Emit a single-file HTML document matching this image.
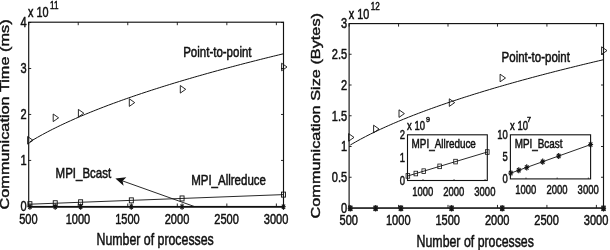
<!DOCTYPE html>
<html><head><meta charset="utf-8"><title>Communication time and size</title>
<style>html,body{margin:0;padding:0;background:#fff}svg{display:block}svg text{font-family:"Liberation Sans",sans-serif}</style></head>
<body><svg width="610" height="250" viewBox="0 0 610 250"  fill="#111" stroke="#111">
<rect x="0" y="0" width="610" height="250" fill="#fff" stroke="none"/>
<g>
<rect x="28.7" y="22.2" width="254.80" height="184.30" fill="none" stroke-width="1.15"/>
<line x1="28.70" y1="206.50" x2="28.70" y2="203.50" stroke-width="0.9" />
<line x1="28.70" y1="22.20" x2="28.70" y2="25.20" stroke-width="0.9" />
<line x1="78.23" y1="206.50" x2="78.23" y2="203.50" stroke-width="0.9" />
<line x1="78.23" y1="22.20" x2="78.23" y2="25.20" stroke-width="0.9" />
<line x1="127.77" y1="206.50" x2="127.77" y2="203.50" stroke-width="0.9" />
<line x1="127.77" y1="22.20" x2="127.77" y2="25.20" stroke-width="0.9" />
<line x1="177.30" y1="206.50" x2="177.30" y2="203.50" stroke-width="0.9" />
<line x1="177.30" y1="22.20" x2="177.30" y2="25.20" stroke-width="0.9" />
<line x1="226.83" y1="206.50" x2="226.83" y2="203.50" stroke-width="0.9" />
<line x1="226.83" y1="22.20" x2="226.83" y2="25.20" stroke-width="0.9" />
<line x1="276.37" y1="206.50" x2="276.37" y2="203.50" stroke-width="0.9" />
<line x1="276.37" y1="22.20" x2="276.37" y2="25.20" stroke-width="0.9" />
<line x1="28.70" y1="206.40" x2="31.20" y2="206.40" stroke-width="0.9" />
<line x1="283.50" y1="206.40" x2="281.00" y2="206.40" stroke-width="0.9" />
<line x1="28.70" y1="160.43" x2="31.20" y2="160.43" stroke-width="0.9" />
<line x1="283.50" y1="160.43" x2="281.00" y2="160.43" stroke-width="0.9" />
<line x1="28.70" y1="114.46" x2="31.20" y2="114.46" stroke-width="0.9" />
<line x1="283.50" y1="114.46" x2="281.00" y2="114.46" stroke-width="0.9" />
<line x1="28.70" y1="68.49" x2="31.20" y2="68.49" stroke-width="0.9" />
<line x1="283.50" y1="68.49" x2="281.00" y2="68.49" stroke-width="0.9" />
<line x1="28.70" y1="22.52" x2="31.20" y2="22.52" stroke-width="0.9" />
<line x1="283.50" y1="22.52" x2="281.00" y2="22.52" stroke-width="0.9" />
<line x1="29.89" y1="207.10" x2="283.50" y2="207.10" stroke-width="1.2" />
<text stroke="#111" stroke-width="0.5" transform="translate(28.40 223.50) scale(0.783 1)" font-size="14.1" text-anchor="middle" >500</text>
<text stroke="#111" stroke-width="0.5" transform="translate(77.93 223.50) scale(0.783 1)" font-size="14.1" text-anchor="middle" >1000</text>
<text stroke="#111" stroke-width="0.5" transform="translate(127.47 223.50) scale(0.783 1)" font-size="14.1" text-anchor="middle" >1500</text>
<text stroke="#111" stroke-width="0.5" transform="translate(177.00 223.50) scale(0.783 1)" font-size="14.1" text-anchor="middle" >2000</text>
<text stroke="#111" stroke-width="0.5" transform="translate(226.53 223.50) scale(0.783 1)" font-size="14.1" text-anchor="middle" >2500</text>
<text stroke="#111" stroke-width="0.5" transform="translate(276.07 223.50) scale(0.783 1)" font-size="14.1" text-anchor="middle" >3000</text>
<text stroke="#111" stroke-width="0.5" transform="translate(26.60 211.30) scale(0.783 1)" font-size="14.1" text-anchor="end" >0</text>
<text stroke="#111" stroke-width="0.5" transform="translate(26.60 165.33) scale(0.783 1)" font-size="14.1" text-anchor="end" >1</text>
<text stroke="#111" stroke-width="0.5" transform="translate(26.60 119.36) scale(0.783 1)" font-size="14.1" text-anchor="end" >2</text>
<text stroke="#111" stroke-width="0.5" transform="translate(26.60 73.39) scale(0.783 1)" font-size="14.1" text-anchor="end" >3</text>
<text stroke="#111" stroke-width="0.5" transform="translate(26.60 27.42) scale(0.783 1)" font-size="14.1" text-anchor="end" >4</text>
<text stroke="#111" stroke-width="0.5" transform="translate(28.00 16.60) scale(0.77 1)" font-size="14.1" text-anchor="start" >x 10</text>
<text stroke="#111" stroke-width="0.5" transform="translate(50.00 8.60) scale(0.78 1)" font-size="10.4" text-anchor="start" >11</text>
<text stroke="#111" stroke-width="0.5" transform="translate(96.50 244.60) scale(0.777 1)" font-size="15.9" text-anchor="start" >Number of processes</text>
<text stroke="#111" stroke-width="0.5" transform="translate(8.80 209.50) rotate(-90) scale(1 0.815)" font-size="16.3" text-anchor="start">Communication Time (ms)</text>
<polyline points="29.89,141.81 32.42,140.28 34.96,138.79 37.50,137.33 40.03,135.91 42.57,134.51 45.11,133.14 47.64,131.80 50.18,130.49 52.71,129.20 55.25,127.94 57.79,126.69 60.32,125.47 62.86,124.26 65.39,123.08 67.93,121.91 70.47,120.76 73.00,119.63 75.54,118.51 78.07,117.40 80.61,116.32 83.15,115.24 85.68,114.18 88.22,113.13 90.76,112.10 93.29,111.08 95.83,110.07 98.36,109.07 100.90,108.08 103.44,107.10 105.97,106.13 108.51,105.17 111.04,104.23 113.58,103.29 116.12,102.36 118.65,101.44 121.19,100.53 123.72,99.62 126.26,98.73 128.80,97.84 131.33,96.96 133.87,96.09 136.41,95.23 138.94,94.37 141.48,93.52 144.01,92.68 146.55,91.84 149.09,91.01 151.62,90.19 154.16,89.37 156.69,88.56 159.23,87.75 161.77,86.95 164.30,86.16 166.84,85.37 169.37,84.59 171.91,83.81 174.45,83.04 176.98,82.27 179.52,81.51 182.06,80.76 184.59,80.01 187.13,79.26 189.66,78.52 192.20,77.78 194.74,77.05 197.27,76.32 199.81,75.59 202.34,74.88 204.88,74.16 207.42,73.45 209.95,72.74 212.49,72.04 215.02,71.34 217.56,70.64 220.10,69.95 222.63,69.27 225.17,68.58 227.71,67.90 230.24,67.22 232.78,66.55 235.31,65.88 237.85,65.22 240.39,64.55 242.92,63.89 245.46,63.24 247.99,62.59 250.53,61.94 253.07,61.29 255.60,60.65 258.14,60.01 260.67,59.37 263.21,58.73 265.75,58.10 268.28,57.47 270.82,56.85 273.36,56.23 275.89,55.61 278.43,54.99 280.96,54.37 283.50,53.76" fill="none" stroke-width="1"/>
<polygon points="27.60,136.50 33.00,140.30 27.60,144.10" fill="none" stroke-width="0.9"/>
<polygon points="53.20,114.00 58.60,117.80 53.20,121.60" fill="none" stroke-width="0.9"/>
<polygon points="78.40,109.40 83.80,113.20 78.40,117.00" fill="none" stroke-width="0.9"/>
<polygon points="129.30,98.80 134.70,102.60 129.30,106.40" fill="none" stroke-width="0.9"/>
<polygon points="180.30,85.50 185.70,89.30 180.30,93.10" fill="none" stroke-width="0.9"/>
<polygon points="281.60,63.20 287.00,67.00 281.60,70.80" fill="none" stroke-width="0.9"/>
<line x1="29.89" y1="204.20" x2="283.50" y2="194.60" stroke-width="0.9" />
<rect x="27.89" y="201.70" width="4" height="5" fill="none" stroke-width="0.9"/>
<rect x="53.25" y="200.74" width="4" height="5" fill="none" stroke-width="0.9"/>
<rect x="78.61" y="199.78" width="4" height="5" fill="none" stroke-width="0.9"/>
<rect x="129.33" y="197.86" width="4" height="5" fill="none" stroke-width="0.9"/>
<rect x="180.06" y="195.94" width="4" height="5" fill="none" stroke-width="0.9"/>
<rect x="281.50" y="192.10" width="4" height="5" fill="none" stroke-width="0.9"/>
<line x1="29.89" y1="203.60" x2="29.89" y2="209.80" stroke-width="1.1" />
<line x1="27.69" y1="206.70" x2="32.09" y2="206.70" stroke-width="1.1" />
<line x1="28.35" y1="204.53" x2="31.43" y2="208.87" stroke-width="1.1" />
<line x1="28.35" y1="208.87" x2="31.43" y2="204.53" stroke-width="1.1" />
<line x1="55.25" y1="203.60" x2="55.25" y2="209.80" stroke-width="1.1" />
<line x1="53.05" y1="206.70" x2="57.45" y2="206.70" stroke-width="1.1" />
<line x1="53.71" y1="204.53" x2="56.79" y2="208.87" stroke-width="1.1" />
<line x1="53.71" y1="208.87" x2="56.79" y2="204.53" stroke-width="1.1" />
<line x1="80.61" y1="203.60" x2="80.61" y2="209.80" stroke-width="1.1" />
<line x1="78.41" y1="206.70" x2="82.81" y2="206.70" stroke-width="1.1" />
<line x1="79.07" y1="204.53" x2="82.15" y2="208.87" stroke-width="1.1" />
<line x1="79.07" y1="208.87" x2="82.15" y2="204.53" stroke-width="1.1" />
<line x1="131.33" y1="203.60" x2="131.33" y2="209.80" stroke-width="1.1" />
<line x1="129.13" y1="206.70" x2="133.53" y2="206.70" stroke-width="1.1" />
<line x1="129.79" y1="204.53" x2="132.87" y2="208.87" stroke-width="1.1" />
<line x1="129.79" y1="208.87" x2="132.87" y2="204.53" stroke-width="1.1" />
<line x1="182.06" y1="203.60" x2="182.06" y2="209.80" stroke-width="1.1" />
<line x1="179.86" y1="206.70" x2="184.26" y2="206.70" stroke-width="1.1" />
<line x1="180.52" y1="204.53" x2="183.60" y2="208.87" stroke-width="1.1" />
<line x1="180.52" y1="208.87" x2="183.60" y2="204.53" stroke-width="1.1" />
<line x1="283.50" y1="203.60" x2="283.50" y2="209.80" stroke-width="1.1" />
<line x1="281.30" y1="206.70" x2="285.70" y2="206.70" stroke-width="1.1" />
<line x1="281.96" y1="204.53" x2="285.04" y2="208.87" stroke-width="1.1" />
<line x1="281.96" y1="208.87" x2="285.04" y2="204.53" stroke-width="1.1" />
<text stroke="#111" stroke-width="0.5" transform="translate(183.20 57.00) scale(0.81 1)" font-size="14.2" text-anchor="start" >Point-to-point</text>
<text stroke="#111" stroke-width="0.5" transform="translate(55.60 178.40) scale(0.81 1)" font-size="14.2" text-anchor="start" >MPI_Bcast</text>
<text stroke="#111" stroke-width="0.5" transform="translate(191.20 185.40) scale(0.81 1)" font-size="14.2" text-anchor="start" >MPI_Allreduce</text>
<line x1="194.00" y1="206.40" x2="122.50" y2="180.90" stroke-width="0.9" />
<polygon points="115.4,178.4 126.3,177.2 122.6,180.9 123.6,185.8" stroke="none" fill="#111"/>
<rect x="349.1" y="23.6" width="254.40" height="184.30" fill="none" stroke-width="1.15"/>
<line x1="349.10" y1="207.90" x2="349.10" y2="204.90" stroke-width="0.9" />
<line x1="349.10" y1="23.60" x2="349.10" y2="26.60" stroke-width="0.9" />
<line x1="398.56" y1="207.90" x2="398.56" y2="204.90" stroke-width="0.9" />
<line x1="398.56" y1="23.60" x2="398.56" y2="26.60" stroke-width="0.9" />
<line x1="448.01" y1="207.90" x2="448.01" y2="204.90" stroke-width="0.9" />
<line x1="448.01" y1="23.60" x2="448.01" y2="26.60" stroke-width="0.9" />
<line x1="497.47" y1="207.90" x2="497.47" y2="204.90" stroke-width="0.9" />
<line x1="497.47" y1="23.60" x2="497.47" y2="26.60" stroke-width="0.9" />
<line x1="546.92" y1="207.90" x2="546.92" y2="204.90" stroke-width="0.9" />
<line x1="546.92" y1="23.60" x2="546.92" y2="26.60" stroke-width="0.9" />
<line x1="596.38" y1="207.90" x2="596.38" y2="204.90" stroke-width="0.9" />
<line x1="596.38" y1="23.60" x2="596.38" y2="26.60" stroke-width="0.9" />
<line x1="349.10" y1="208.00" x2="351.60" y2="208.00" stroke-width="0.9" />
<line x1="603.50" y1="208.00" x2="601.00" y2="208.00" stroke-width="0.9" />
<line x1="349.10" y1="177.25" x2="351.60" y2="177.25" stroke-width="0.9" />
<line x1="603.50" y1="177.25" x2="601.00" y2="177.25" stroke-width="0.9" />
<line x1="349.10" y1="146.50" x2="351.60" y2="146.50" stroke-width="0.9" />
<line x1="603.50" y1="146.50" x2="601.00" y2="146.50" stroke-width="0.9" />
<line x1="349.10" y1="115.75" x2="351.60" y2="115.75" stroke-width="0.9" />
<line x1="603.50" y1="115.75" x2="601.00" y2="115.75" stroke-width="0.9" />
<line x1="349.10" y1="85.00" x2="351.60" y2="85.00" stroke-width="0.9" />
<line x1="603.50" y1="85.00" x2="601.00" y2="85.00" stroke-width="0.9" />
<line x1="349.10" y1="54.25" x2="351.60" y2="54.25" stroke-width="0.9" />
<line x1="603.50" y1="54.25" x2="601.00" y2="54.25" stroke-width="0.9" />
<line x1="349.10" y1="23.50" x2="351.60" y2="23.50" stroke-width="0.9" />
<line x1="603.50" y1="23.50" x2="601.00" y2="23.50" stroke-width="0.9" />
<line x1="350.29" y1="208.30" x2="603.50" y2="208.30" stroke-width="0.9" />
<text stroke="#111" stroke-width="0.5" transform="translate(348.80 225.00) scale(0.783 1)" font-size="14.1" text-anchor="middle" >500</text>
<text stroke="#111" stroke-width="0.5" transform="translate(398.26 225.00) scale(0.783 1)" font-size="14.1" text-anchor="middle" >1000</text>
<text stroke="#111" stroke-width="0.5" transform="translate(447.71 225.00) scale(0.783 1)" font-size="14.1" text-anchor="middle" >1500</text>
<text stroke="#111" stroke-width="0.5" transform="translate(497.17 225.00) scale(0.783 1)" font-size="14.1" text-anchor="middle" >2000</text>
<text stroke="#111" stroke-width="0.5" transform="translate(546.62 225.00) scale(0.783 1)" font-size="14.1" text-anchor="middle" >2500</text>
<text stroke="#111" stroke-width="0.5" transform="translate(596.08 225.00) scale(0.783 1)" font-size="14.1" text-anchor="middle" >3000</text>
<text stroke="#111" stroke-width="0.5" transform="translate(347.20 212.90) scale(0.783 1)" font-size="14.1" text-anchor="end" >0</text>
<text stroke="#111" stroke-width="0.5" transform="translate(347.20 182.15) scale(0.783 1)" font-size="14.1" text-anchor="end" >0.5</text>
<text stroke="#111" stroke-width="0.5" transform="translate(347.20 151.40) scale(0.783 1)" font-size="14.1" text-anchor="end" >1</text>
<text stroke="#111" stroke-width="0.5" transform="translate(347.20 120.65) scale(0.783 1)" font-size="14.1" text-anchor="end" >1.5</text>
<text stroke="#111" stroke-width="0.5" transform="translate(347.20 89.90) scale(0.783 1)" font-size="14.1" text-anchor="end" >2</text>
<text stroke="#111" stroke-width="0.5" transform="translate(347.20 59.15) scale(0.783 1)" font-size="14.1" text-anchor="end" >2.5</text>
<text stroke="#111" stroke-width="0.5" transform="translate(347.20 28.40) scale(0.783 1)" font-size="14.1" text-anchor="end" >3</text>
<text stroke="#111" stroke-width="0.5" transform="translate(348.80 18.60) scale(0.77 1)" font-size="14.1" text-anchor="start" >x 10</text>
<text stroke="#111" stroke-width="0.5" transform="translate(370.80 10.10) scale(0.78 1)" font-size="10.4" text-anchor="start" >12</text>
<text stroke="#111" stroke-width="0.5" transform="translate(416.60 246.60) scale(0.777 1)" font-size="15.9" text-anchor="start" >Number of processes</text>
<text stroke="#111" stroke-width="0.5" transform="translate(319.50 218.50) rotate(-90) scale(1 0.815)" font-size="16.3" text-anchor="start">Communication Size (Bytes)</text>
<polyline points="350.29,145.02 352.82,143.54 355.35,142.09 357.88,140.67 360.42,139.29 362.95,137.94 365.48,136.61 368.01,135.31 370.54,134.04 373.08,132.78 375.61,131.56 378.14,130.35 380.67,129.16 383.20,127.99 385.74,126.84 388.27,125.71 390.80,124.59 393.33,123.49 395.87,122.41 398.40,121.34 400.93,120.29 403.46,119.24 405.99,118.22 408.53,117.20 411.06,116.20 413.59,115.21 416.12,114.23 418.65,113.26 421.19,112.30 423.72,111.35 426.25,110.41 428.78,109.49 431.32,108.57 433.85,107.66 436.38,106.76 438.91,105.86 441.44,104.98 443.98,104.11 446.51,103.24 449.04,102.38 451.57,101.53 454.10,100.68 456.64,99.85 459.17,99.01 461.70,98.19 464.23,97.37 466.76,96.56 469.30,95.76 471.83,94.96 474.36,94.17 476.89,93.39 479.43,92.61 481.96,91.83 484.49,91.06 487.02,90.30 489.55,89.54 492.09,88.79 494.62,88.04 497.15,87.30 499.68,86.56 502.21,85.83 504.75,85.10 507.28,84.38 509.81,83.66 512.34,82.95 514.88,82.24 517.41,81.53 519.94,80.83 522.47,80.14 525.00,79.44 527.54,78.76 530.07,78.07 532.60,77.39 535.13,76.71 537.66,76.04 540.20,75.37 542.73,74.71 545.26,74.04 547.79,73.39 550.33,72.73 552.86,72.08 555.39,71.43 557.92,70.79 560.45,70.15 562.99,69.51 565.52,68.87 568.05,68.24 570.58,67.61 573.11,66.99 575.65,66.36 578.18,65.74 580.71,65.13 583.24,64.51 585.78,63.90 588.31,63.30 590.84,62.69 593.37,62.09 595.90,61.49 598.44,60.89 600.97,60.30 603.50,59.70" fill="none" stroke-width="1"/>
<polygon points="348.60,133.60 354.00,137.40 348.60,141.20" fill="none" stroke-width="0.9"/>
<polygon points="373.60,125.20 379.00,129.00 373.60,132.80" fill="none" stroke-width="0.9"/>
<polygon points="399.00,109.80 404.40,113.60 399.00,117.40" fill="none" stroke-width="0.9"/>
<polygon points="449.30,98.80 454.70,102.60 449.30,106.40" fill="none" stroke-width="0.9"/>
<polygon points="500.10,74.20 505.50,78.00 500.10,81.80" fill="none" stroke-width="0.9"/>
<polygon points="601.60,46.80 607.00,50.60 601.60,54.40" fill="none" stroke-width="0.9"/>
<rect x="348.09" y="205.50" width="4.4" height="5.6" fill="#333" stroke="none"/>
<line x1="350.29" y1="205.10" x2="350.29" y2="211.50" stroke-width="0.9" />
<line x1="347.69" y1="208.30" x2="352.89" y2="208.30" stroke-width="0.9" />
<line x1="348.47" y1="206.06" x2="352.11" y2="210.54" stroke-width="0.9" />
<line x1="348.47" y1="210.54" x2="352.11" y2="206.06" stroke-width="0.9" />
<rect x="373.41" y="205.50" width="4.4" height="5.6" fill="#333" stroke="none"/>
<line x1="375.61" y1="205.10" x2="375.61" y2="211.50" stroke-width="0.9" />
<line x1="373.01" y1="208.30" x2="378.21" y2="208.30" stroke-width="0.9" />
<line x1="373.79" y1="206.06" x2="377.43" y2="210.54" stroke-width="0.9" />
<line x1="373.79" y1="210.54" x2="377.43" y2="206.06" stroke-width="0.9" />
<rect x="398.73" y="205.50" width="4.4" height="5.6" fill="#333" stroke="none"/>
<line x1="400.93" y1="205.10" x2="400.93" y2="211.50" stroke-width="0.9" />
<line x1="398.33" y1="208.30" x2="403.53" y2="208.30" stroke-width="0.9" />
<line x1="399.11" y1="206.06" x2="402.75" y2="210.54" stroke-width="0.9" />
<line x1="399.11" y1="210.54" x2="402.75" y2="206.06" stroke-width="0.9" />
<rect x="449.37" y="205.50" width="4.4" height="5.6" fill="#333" stroke="none"/>
<line x1="451.57" y1="205.10" x2="451.57" y2="211.50" stroke-width="0.9" />
<line x1="448.97" y1="208.30" x2="454.17" y2="208.30" stroke-width="0.9" />
<line x1="449.75" y1="206.06" x2="453.39" y2="210.54" stroke-width="0.9" />
<line x1="449.75" y1="210.54" x2="453.39" y2="206.06" stroke-width="0.9" />
<rect x="500.01" y="205.50" width="4.4" height="5.6" fill="#333" stroke="none"/>
<line x1="502.21" y1="205.10" x2="502.21" y2="211.50" stroke-width="0.9" />
<line x1="499.61" y1="208.30" x2="504.81" y2="208.30" stroke-width="0.9" />
<line x1="500.39" y1="206.06" x2="504.03" y2="210.54" stroke-width="0.9" />
<line x1="500.39" y1="210.54" x2="504.03" y2="206.06" stroke-width="0.9" />
<rect x="601.30" y="205.50" width="4.4" height="5.6" fill="#333" stroke="none"/>
<line x1="603.50" y1="205.10" x2="603.50" y2="211.50" stroke-width="0.9" />
<line x1="600.90" y1="208.30" x2="606.10" y2="208.30" stroke-width="0.9" />
<line x1="601.68" y1="206.06" x2="605.32" y2="210.54" stroke-width="0.9" />
<line x1="601.68" y1="210.54" x2="605.32" y2="206.06" stroke-width="0.9" />
<text stroke="#111" stroke-width="0.5" transform="translate(501.60 61.60) scale(0.81 1)" font-size="14.2" text-anchor="start" >Point-to-point</text>
<rect x="407.5" y="134.8" width="79.80" height="45.70" fill="#fff" stroke-width="1.1"/>
<line x1="423.01" y1="180.50" x2="423.01" y2="179.10" stroke-width="0.7" />
<text stroke="#111" stroke-width="0.5" transform="translate(422.81 195.50) scale(0.74 1)" font-size="12.8" text-anchor="middle" >1000</text>
<line x1="454.04" y1="180.50" x2="454.04" y2="179.10" stroke-width="0.7" />
<text stroke="#111" stroke-width="0.5" transform="translate(453.84 195.50) scale(0.74 1)" font-size="12.8" text-anchor="middle" >2000</text>
<line x1="485.07" y1="180.50" x2="485.07" y2="179.10" stroke-width="0.7" />
<text stroke="#111" stroke-width="0.5" transform="translate(484.87 195.50) scale(0.74 1)" font-size="12.8" text-anchor="middle" >3000</text>
<text stroke="#111" stroke-width="0.5" transform="translate(404.90 185.00) scale(0.74 1)" font-size="12.8" text-anchor="end" >0</text>
<text stroke="#111" stroke-width="0.5" transform="translate(404.90 162.15) scale(0.74 1)" font-size="12.8" text-anchor="end" >1</text>
<text stroke="#111" stroke-width="0.5" transform="translate(404.90 139.30) scale(0.74 1)" font-size="12.8" text-anchor="end" >2</text>
<text stroke="#111" stroke-width="0.5" transform="translate(407.10 129.70) scale(0.73 1)" font-size="13.0" text-anchor="start" >x 10</text>
<text stroke="#111" stroke-width="0.5" transform="translate(426.00 122.20) scale(0.9 1)" font-size="8" text-anchor="start" >9</text>
<text stroke="#111" stroke-width="0.5" transform="translate(411.60 147.50) scale(0.785 1)" font-size="12.6" text-anchor="start" >MPI_Allreduce</text>
<line x1="407.60" y1="176.00" x2="487.40" y2="152.00" stroke-width="0.9" />
<rect x="406.07" y="173.62" width="3.6" height="4.6" fill="none" stroke-width="0.8"/>
<rect x="414.02" y="171.23" width="3.6" height="4.6" fill="none" stroke-width="0.8"/>
<rect x="421.96" y="168.84" width="3.6" height="4.6" fill="none" stroke-width="0.8"/>
<rect x="437.84" y="164.06" width="3.6" height="4.6" fill="none" stroke-width="0.8"/>
<rect x="453.73" y="159.29" width="3.6" height="4.6" fill="none" stroke-width="0.8"/>
<rect x="485.50" y="149.73" width="3.6" height="4.6" fill="none" stroke-width="0.8"/>
<rect x="510.4" y="134.8" width="80.20" height="44.10" fill="#fff" stroke-width="1.1"/>
<line x1="525.99" y1="178.90" x2="525.99" y2="177.50" stroke-width="0.7" />
<text stroke="#111" stroke-width="0.5" transform="translate(525.79 193.90) scale(0.74 1)" font-size="12.8" text-anchor="middle" >1000</text>
<line x1="557.17" y1="178.90" x2="557.17" y2="177.50" stroke-width="0.7" />
<text stroke="#111" stroke-width="0.5" transform="translate(556.97 193.90) scale(0.74 1)" font-size="12.8" text-anchor="middle" >2000</text>
<line x1="588.35" y1="178.90" x2="588.35" y2="177.50" stroke-width="0.7" />
<text stroke="#111" stroke-width="0.5" transform="translate(588.15 193.90) scale(0.74 1)" font-size="12.8" text-anchor="middle" >3000</text>
<text stroke="#111" stroke-width="0.5" transform="translate(507.80 183.40) scale(0.74 1)" font-size="12.8" text-anchor="end" >0</text>
<text stroke="#111" stroke-width="0.5" transform="translate(507.80 161.35) scale(0.74 1)" font-size="12.8" text-anchor="end" >5</text>
<text stroke="#111" stroke-width="0.5" transform="translate(507.80 139.30) scale(0.74 1)" font-size="12.8" text-anchor="end" >10</text>
<text stroke="#111" stroke-width="0.5" transform="translate(510.00 129.70) scale(0.73 1)" font-size="13.0" text-anchor="start" >x 10</text>
<text stroke="#111" stroke-width="0.5" transform="translate(527.00 122.20) scale(0.9 1)" font-size="8" text-anchor="start" >7</text>
<text stroke="#111" stroke-width="0.5" transform="translate(514.70 147.50) scale(0.785 1)" font-size="12.6" text-anchor="start" >MPI_Bcast</text>
<line x1="510.50" y1="173.20" x2="590.60" y2="144.60" stroke-width="0.9" />
<line x1="510.77" y1="170.00" x2="510.77" y2="176.20" stroke-width="1.1" />
<line x1="508.27" y1="173.10" x2="513.27" y2="173.10" stroke-width="1.1" />
<line x1="509.02" y1="170.93" x2="512.52" y2="175.27" stroke-width="1.1" />
<line x1="509.02" y1="175.27" x2="512.52" y2="170.93" stroke-width="1.1" />
<line x1="518.76" y1="167.15" x2="518.76" y2="173.35" stroke-width="1.1" />
<line x1="516.26" y1="170.25" x2="521.26" y2="170.25" stroke-width="1.1" />
<line x1="517.01" y1="168.08" x2="520.51" y2="172.42" stroke-width="1.1" />
<line x1="517.01" y1="172.42" x2="520.51" y2="168.08" stroke-width="1.1" />
<line x1="526.74" y1="164.30" x2="526.74" y2="170.50" stroke-width="1.1" />
<line x1="524.24" y1="167.40" x2="529.24" y2="167.40" stroke-width="1.1" />
<line x1="524.99" y1="165.23" x2="528.49" y2="169.57" stroke-width="1.1" />
<line x1="524.99" y1="169.57" x2="528.49" y2="165.23" stroke-width="1.1" />
<line x1="542.70" y1="158.60" x2="542.70" y2="164.80" stroke-width="1.1" />
<line x1="540.20" y1="161.70" x2="545.20" y2="161.70" stroke-width="1.1" />
<line x1="540.95" y1="159.53" x2="544.45" y2="163.87" stroke-width="1.1" />
<line x1="540.95" y1="163.87" x2="544.45" y2="159.53" stroke-width="1.1" />
<line x1="558.67" y1="152.90" x2="558.67" y2="159.10" stroke-width="1.1" />
<line x1="556.17" y1="156.00" x2="561.17" y2="156.00" stroke-width="1.1" />
<line x1="556.92" y1="153.83" x2="560.42" y2="158.17" stroke-width="1.1" />
<line x1="556.92" y1="158.17" x2="560.42" y2="153.83" stroke-width="1.1" />
<line x1="590.60" y1="141.50" x2="590.60" y2="147.70" stroke-width="1.1" />
<line x1="588.10" y1="144.60" x2="593.10" y2="144.60" stroke-width="1.1" />
<line x1="588.85" y1="142.43" x2="592.35" y2="146.77" stroke-width="1.1" />
<line x1="588.85" y1="146.77" x2="592.35" y2="142.43" stroke-width="1.1" />
</g>
</svg></body></html>
